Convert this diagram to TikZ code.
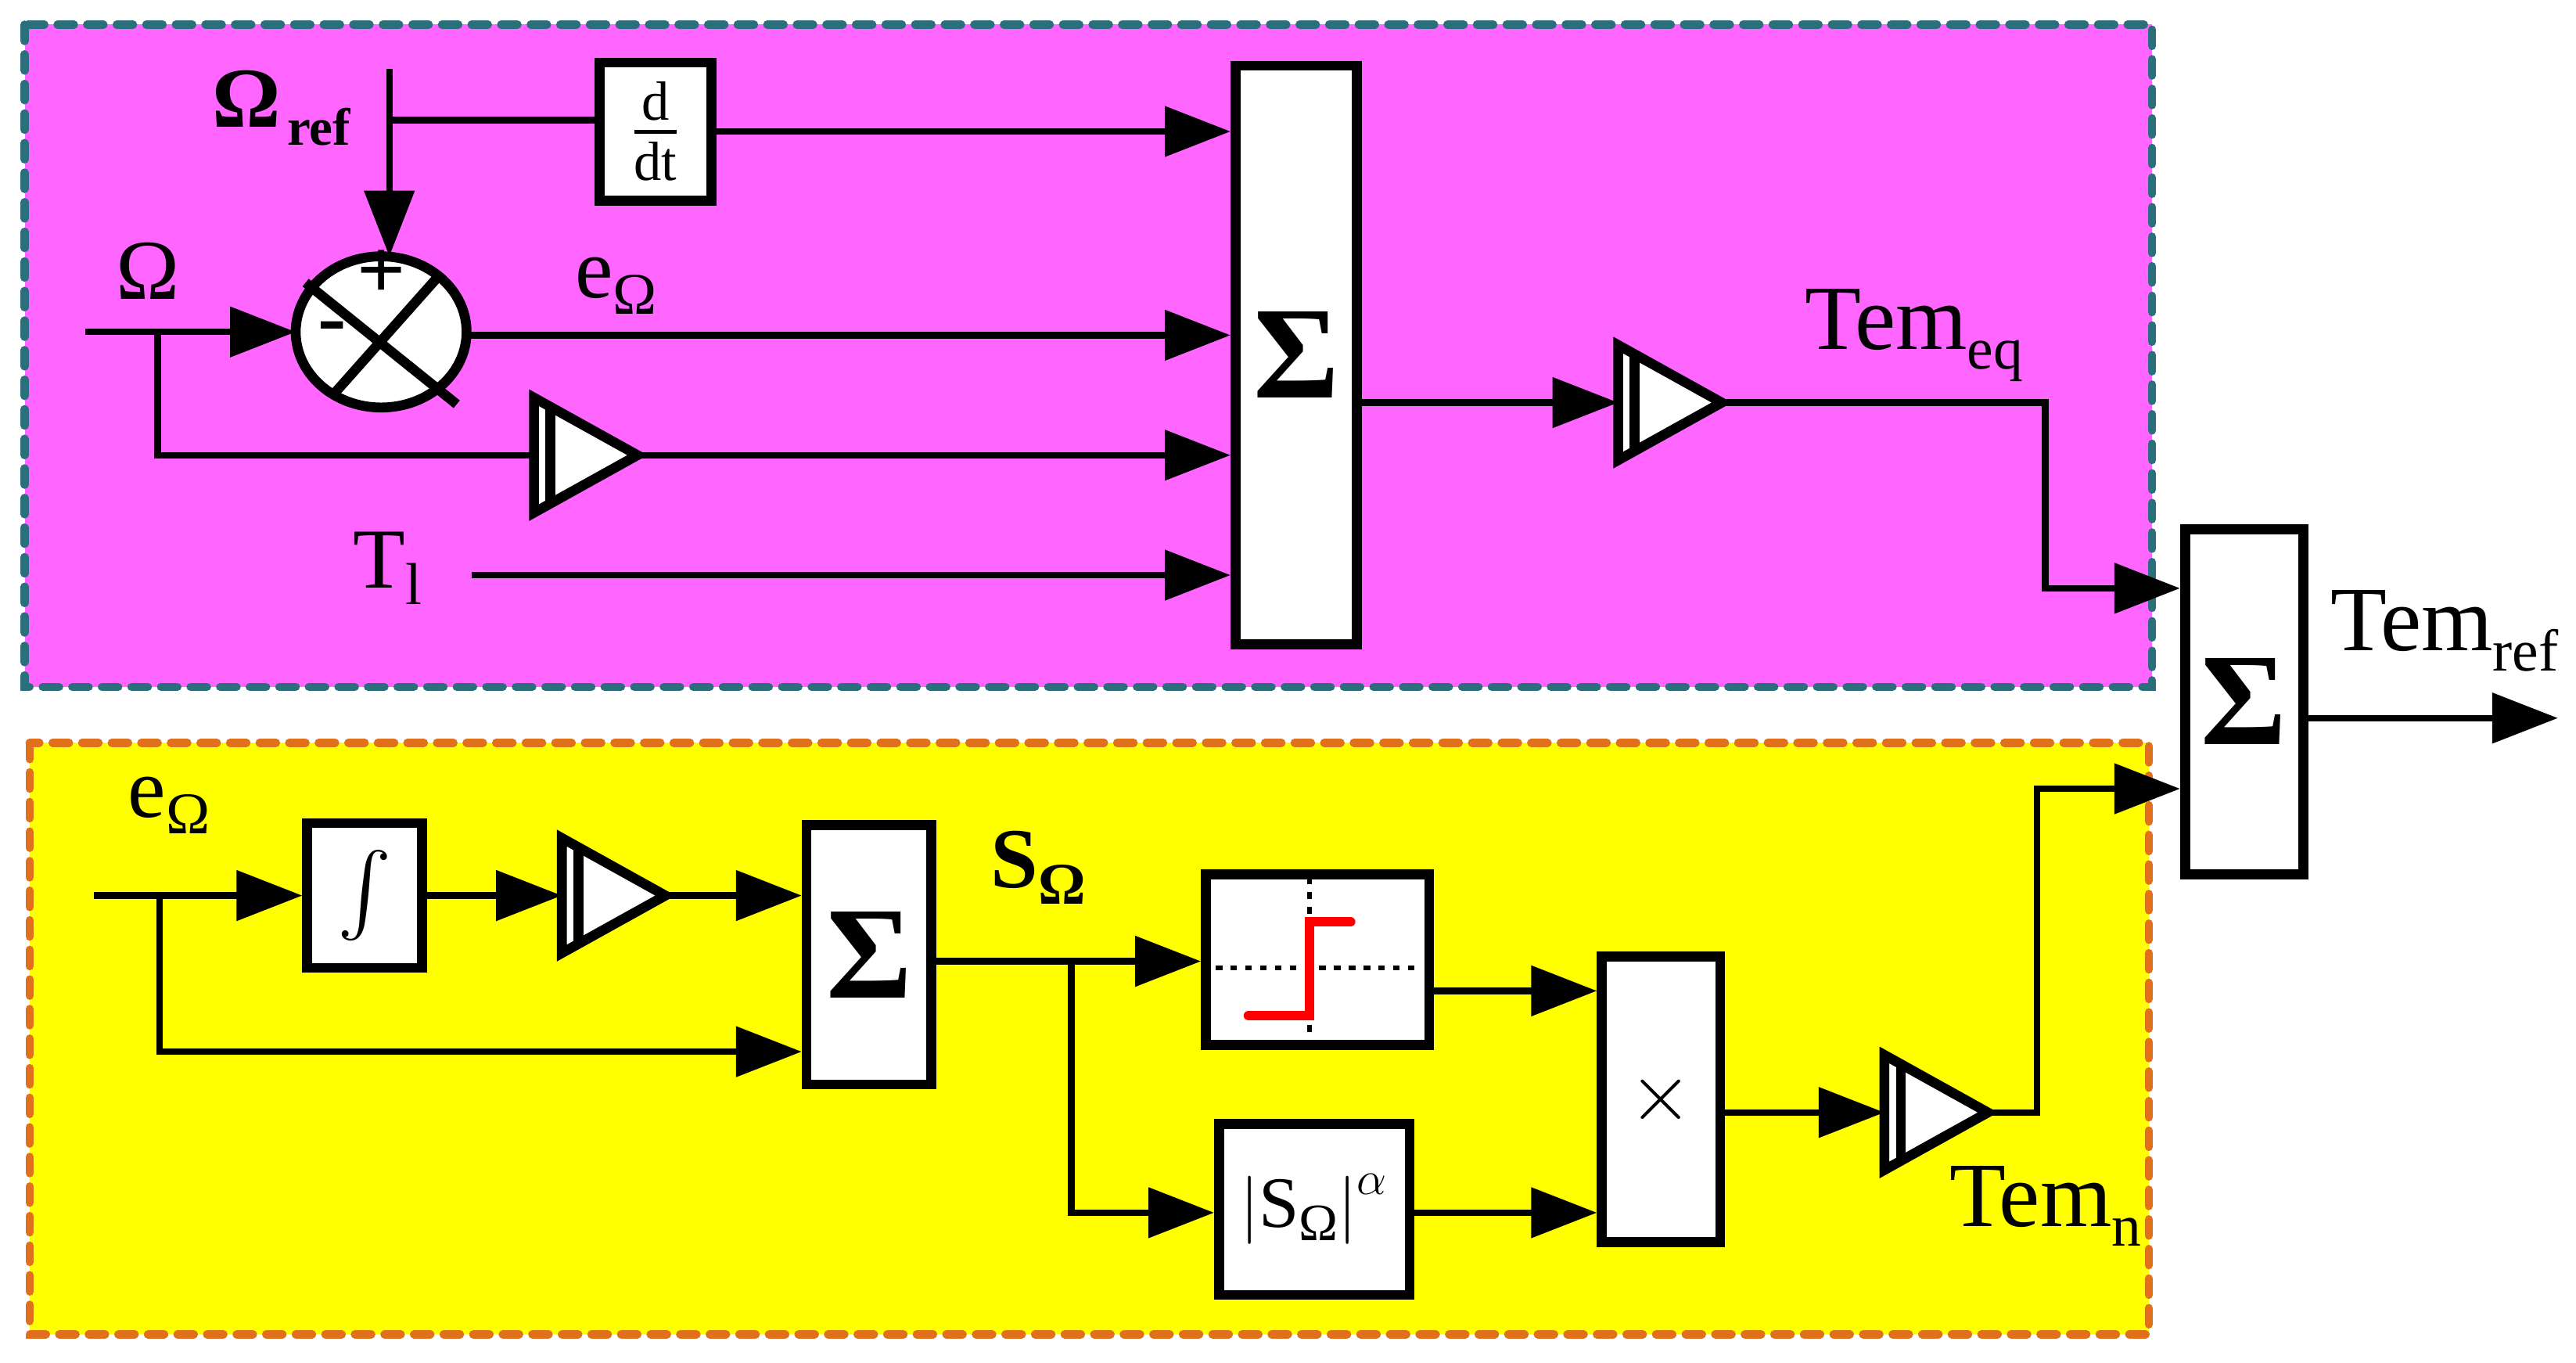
\documentclass[tikz,border=0pt]{standalone}
\usepackage{amsmath}
\usepackage{fontspec}
\setmainfont{Liberation Serif}
\usetikzlibrary{arrows.meta}
\definecolor{magbg}{HTML}{FF66FF}
\definecolor{yelbg}{HTML}{FFFF00}
\definecolor{tealdash}{HTML}{2B6F7C}
\definecolor{orgdash}{HTML}{E0701C}
\tikzset{
  blk/.style={draw=black,fill=white,line width=3pt,inner sep=0pt},
  sig/.style={line width=2pt,-{Triangle[length=20pt,width=15pt]}},
  wire/.style={line width=2pt},
  lbl/.style={font=\fontsize{26}{28}\selectfont,inner sep=0pt},
  biglbl/.style={font=\fontsize{28}{30}\selectfont,inner sep=0pt},
  sigma/.style={font=\bfseries\fontsize{40}{40}\selectfont}
}
% gain block: name, left x, centre y
\newcommand\gainblk[3]{%
  \path[blk,line join=miter] (#2,#3-35) -- (#2+63,#3) -- (#2,#3+35) -- cycle;
  \draw[line width=3pt] (#2+10,#3-29) -- (#2+10,#3+29);
  \coordinate (#1-in) at (#2,#3);
  \coordinate (#1-out) at (#2+63,#3);}

\begin{document}
\begin{tikzpicture}[x=0.5pt,y=0.5pt,yscale=-1]
\useasboundingbox (0,0) rectangle (1568,829);
% zones
\path[fill=magbg,draw=tealdash,line width=2.5pt,dash pattern=on 5pt off 4pt,line cap=round]
  (15,15) rectangle (1310,418);
\path[fill=yelbg,draw=orgdash,line width=2.5pt,dash pattern=on 5pt off 4pt,line cap=round]
  (18,452) rectangle (1308,812);

% upper part
\node[lbl,font=\bfseries\fontsize{26}{28}\selectfont] (omref) at (150,60) {Ω};
\node[font=\bfseries\fontsize{16}{16}\selectfont,inner sep=0pt] (omreflbl) at (194,77) {ref};
\coordinate (refin) at (237,42);
\coordinate (reftap) at (237,73);
\draw[blk,fill=white] (232,202) ellipse (52 and 46);
\coordinate (sumtop) at (237,156);
\coordinate (sumleft) at (180,202);
\coordinate (sumright) at (284,204);
\draw[line width=3pt] (186,172) -- (278,246) (267,168) -- (203,240);
\node[font=\bfseries\fontsize{26}{26}\selectfont,inner sep=0pt] (plus) at (232,167) {+};
\node[font=\bfseries\fontsize{26}{26}\selectfont,inner sep=0pt] (minus) at (202,203) {-};
\node[blk,minimum width=34pt,minimum height=42pt] (ddt) at (399,80) {};
\node[font=\fontsize{24}{24}\selectfont,inner sep=1pt] at (399,80) {$\frac{\text{d}}{\text{dt}}$};
\node[blk,sigma,minimum width=37pt,minimum height=176pt] (sigA) at (789,216) {Σ};
\node[lbl] (omega) at (90,165) {Ω};
\coordinate (omin) at (52,202);
\coordinate (ombr) at (96,202);
\gainblk{gA}{325}{277}
\node[lbl] (eom) at (375,174) {e\raisebox{-5pt}{\fontsize{18}{18}\selectfont Ω}};
\node[lbl] (tl) at (236,346) {T\raisebox{-5pt}{\fontsize{18}{18}\selectfont l}};
\coordinate (tlin) at (287,350);
\gainblk{gB}{985}{245}
\node[biglbl] (temeq) at (1165,204) {Tem\raisebox{-6pt}{\fontsize{18}{18}\selectfont eq}};
\node[blk,sigma,minimum width=36pt,minimum height=105pt] (sigR) at (1366,427) {Σ};
\node[biglbl] (temref) at (1488,384) {Tem\raisebox{-6pt}{\fontsize{18}{18}\selectfont ref}};
\coordinate (outend) at (1557,437);

\draw[wire] (refin) -- (reftap);
\draw[sig] (reftap) -- (sumtop);
\draw[wire] (reftap) -- (ddt.west |- reftap);
\draw[sig] (ddt.east) -- (sigA.west |- ddt.east);
\draw[sig] (omin) -- (sumleft);
\draw[sig] (sumright) -- (sigA.west |- sumright);
\draw[wire] (ombr) |- (gA-in);
\draw[sig] (gA-out) -- (sigA.west |- gA-out);
\draw[sig] (tlin) -- (sigA.west |- tlin);
\draw[sig] (sigA.east |- gB-in) -- (gB-in);
\draw[sig] (gB-out) -- (1245,245) |- (sigR.west |- 0,358);
\draw[sig] (sigR.east |- outend) -- (outend);

% lower part
\node[lbl] (eomb) at (103,490) {e\raisebox{-5pt}{\fontsize{18}{18}\selectfont Ω}};
\coordinate (ein) at (57,545);
\coordinate (ebr) at (97,545);
\node[blk,minimum width=35pt,minimum height=44pt] (integ) at (222,545)
  {\fontsize{30}{30}\selectfont$\int$};
\gainblk{gC}{342}{545}
\node[blk,sigma,minimum width=38pt,minimum height=79pt] (sigB) at (529,581) {Σ};
\node[lbl,font=\bfseries\fontsize{26}{28}\selectfont] (sOm) at (632,528)
  {S\raisebox{-5pt}{\fontsize{18}{18}\selectfont Ω}};
\coordinate (stap) at (652,585);
\node[blk,minimum width=68pt,minimum height=52pt] (sgn) at (802,584) {};
\draw[line width=1.5pt,dash pattern=on 2pt off 2.5pt] (797,534) -- (797,634);
\draw[line width=1.5pt,dash pattern=on 2pt off 2.5pt] (740,589) -- (862,589);
\draw[red,line width=3pt,line cap=round] (760,618) -- (797,618) -- (797,561) -- (822,561);
\node[blk,minimum width=58pt,minimum height=52pt] (absb) at (800,736)
  {\fontsize{22}{22}\selectfont$\left|\text{S\raisebox{-4pt}{\fontsize{16}{16}\selectfont Ω}}\right|^{\alpha}$};
\node[blk,minimum width=36pt,minimum height=87pt] (mult) at (1011,669)
  {\fontsize{50}{50}\selectfont$\times$};
\gainblk{gD}{1147}{677}
\node[biglbl] (temn) at (1245,734) {Tem\raisebox{-6pt}{\fontsize{18}{18}\selectfont n}};

\draw[sig] (ein) -- (integ.west);
\draw[sig] (ebr) |- (sigB.west |- 0,640);
\draw[sig] (integ.east) -- (gC-in);
\draw[sig] (gC-out) -- (sigB.west |- gC-out);
\draw[wire] (sigB.east |- stap) -- (stap);
\draw[sig] (stap) -- (sgn.west |- stap);
\draw[sig] (stap) |- (absb.west |- 0,738);
\draw[sig] (sgn.east |- 0,603) -- (mult.west |- 0,603);
\draw[sig] (absb.east |- 0,738) -- (mult.west |- 0,738);
\draw[sig] (mult.east |- gD-in) -- (gD-in);
\draw[sig] (gD-out) -- (1240,677) |- (sigR.west |- 0,480);
\end{tikzpicture}
\end{document}
